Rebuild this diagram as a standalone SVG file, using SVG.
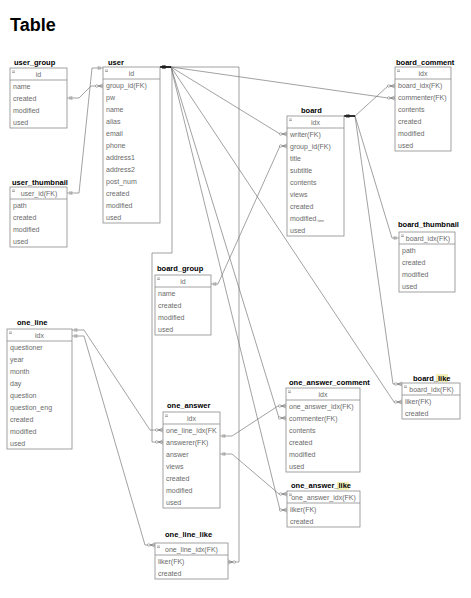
<svg xmlns="http://www.w3.org/2000/svg" width="471" height="598" viewBox="0 0 471 598">
<style>
.bg{fill:#ffffff}
.box{fill:#ffffff;stroke:#8a8a8a;stroke-width:0.8}
.sep{stroke:#8a8a8a;stroke-width:0.8}
.t{font-family:"Liberation Sans",Arial,sans-serif;font-size:7px;fill:#6a6a6a}
.h{font-family:"Liberation Sans",Arial,sans-serif;font-size:7px;fill:#6a6a6a;text-anchor:middle}
.ttl{font-family:"Liberation Sans",Arial,sans-serif;font-size:7.5px;font-weight:bold;fill:#000}
.key{stroke:#777;stroke-width:0.6}
.c{fill:none;stroke:#7a7a7a;stroke-width:0.7}
.m{fill:none;stroke:#666;stroke-width:0.5}
.hl{fill:#f3efb8}
</style>
<defs>
<marker id="many" markerUnits="userSpaceOnUse" markerWidth="12" markerHeight="8" refX="0" refY="0" orient="auto" overflow="visible" viewBox="-10 -4 12 8">
<path class="m" d="M-4.5,0 L0,-2.2 M-4.5,0 L0,2.2 M-4.5,0 L0,0"/>
<circle cx="-6.2" cy="0" r="1.3" fill="#fff" stroke="#666" stroke-width="0.5"/>
</marker>
<marker id="one" markerUnits="userSpaceOnUse" markerWidth="10" markerHeight="8" refX="0" refY="0" orient="auto" overflow="visible" viewBox="-2 -4 10 8">
<path class="m" d="M3,-2 V2 M4.8,-2 V2"/>
</marker>
<marker id="oneEnd" markerUnits="userSpaceOnUse" markerWidth="10" markerHeight="8" refX="0" refY="0" orient="auto" overflow="visible" viewBox="-8 -4 10 8">
<path class="m" d="M-3,-2 V2 M-4.8,-2 V2"/>
</marker>
</defs>
<rect class="bg" x="0" y="0" width="471" height="598"/>
<text x="10" y="31" font-family="Liberation Sans, Arial, sans-serif" font-size="18" font-weight="bold" fill="#000">Table</text>

<g id="connectors">
<path class="c" marker-start="url(#one)" marker-end="url(#many)" d="M67,98 H79 L91,86 H103"/>
<path class="c" marker-start="url(#one)" marker-end="url(#oneEnd)" d="M103,68 H92 L79,193 H67"/>
<path class="c" marker-start="url(#one)" marker-end="url(#many)" d="M160,67 H171 L280,134 H287"/>
<path class="c" marker-start="url(#one)" marker-end="url(#many)" d="M160,67 H171 L388,98 H395"/>
<path class="c" marker-start="url(#one)" marker-end="url(#many)" d="M160,67 H171 L394,402 H402"/>
<path class="c" marker-start="url(#one)" marker-end="url(#many)" d="M160,67 H171 L279,418 H286"/>
<path class="c" marker-start="url(#one)" marker-end="url(#many)" d="M160,67 H171 L280,510 H287"/>
<path class="c" marker-start="url(#one)" marker-end="url(#many)" d="M160,67 H172 V253 H152 V442 H163"/>
<path class="c" marker-start="url(#one)" marker-end="url(#many)" d="M160,67 H239 V562 H228"/>
<path class="c" marker-start="url(#one)" marker-end="url(#many)" d="M344,116 H355 L388,86 H395"/>
<path class="c" marker-start="url(#one)" marker-end="url(#oneEnd)" d="M344,116 H355 L392,238 H399"/>
<path class="c" marker-start="url(#one)" marker-end="url(#many)" d="M344,116 H355 L393,384 H402"/>
<path class="c" marker-start="url(#one)" marker-end="url(#many)" d="M211,284 H218 L280,146 H287"/>
<path class="c" marker-start="url(#one)" marker-end="url(#many)" d="M72,330 H84 L150,430 H163"/>
<path class="c" marker-start="url(#one)" marker-end="url(#many)" d="M72,336 H84 L145,545 H155"/>
<path class="c" marker-start="url(#one)" marker-end="url(#many)" d="M220,436 H232 L278,406 H286"/>
<path class="c" marker-start="url(#one)" marker-end="url(#many)" d="M220,454 H232 L279,494 H287"/>
<path d="M160,67 H171" stroke="#000" stroke-width="1.4"/>
<path d="M344,116 H355" stroke="#000" stroke-width="1.4"/>
</g>

<g id="user_group">
<text class="ttl" x="14" y="65">user_group</text>
<rect class="box" x="10" y="68" width="57" height="60"/>
<line class="sep" x1="10" y1="80" x2="67" y2="80"/>
<path class="key" d="M12,71 H15 M12,72.5 H15"/>
<text class="h" x="38.5" y="76.5">id</text>
<text class="t" x="13" y="88.5">name</text>
<text class="t" x="13" y="100.5">created</text>
<text class="t" x="13" y="112.5">modified</text>
<text class="t" x="13" y="124.5">used</text>
</g>

<g id="user">
<text class="ttl" x="108" y="65">user</text>
<rect class="box" x="103" y="67" width="57" height="156"/>
<line class="sep" x1="103" y1="79" x2="160" y2="79"/>
<path class="key" d="M105,70 H108 M105,71.5 H108"/>
<text class="h" x="131.5" y="75.5">id</text>
<text class="t" x="106" y="87.5">group_id(FK)</text>
<text class="t" x="106" y="99.5">pw</text>
<text class="t" x="106" y="111.5">name</text>
<text class="t" x="106" y="123.5">alias</text>
<text class="t" x="106" y="135.5">email</text>
<text class="t" x="106" y="147.5">phone</text>
<text class="t" x="106" y="159.5">address1</text>
<text class="t" x="106" y="171.5">address2</text>
<text class="t" x="106" y="183.5">post_num</text>
<text class="t" x="106" y="195.5">created</text>
<text class="t" x="106" y="207.5">modified</text>
<text class="t" x="106" y="219.5">used</text>
</g>

<g id="user_thumbnail">
<text class="ttl" x="12" y="185">user_thumbnail</text>
<rect class="box" x="10" y="187" width="57" height="60"/>
<line class="sep" x1="10" y1="199" x2="67" y2="199"/>
<path class="key" d="M12,190 H15 M12,191.5 H15"/>
<text class="h" x="39" y="195.5">user_id(FK)</text>
<text class="t" x="13" y="207.5">path</text>
<text class="t" x="13" y="219.5">created</text>
<text class="t" x="13" y="231.5">modified</text>
<text class="t" x="13" y="243.5">used</text>
</g>

<g id="board">
<text class="ttl" x="301" y="113">board</text>
<rect class="box" x="287" y="116" width="57" height="120"/>
<line class="sep" x1="287" y1="128" x2="344" y2="128"/>
<path class="key" d="M289,119 H292 M289,120.5 H292"/>
<text class="h" x="315.5" y="124.5">idx</text>
<text class="t" x="290" y="136.5">writer(FK)</text>
<text class="t" x="290" y="148.5">group_id(FK)</text>
<text class="t" x="290" y="160.5">title</text>
<text class="t" x="290" y="172.5">subtitle</text>
<text class="t" x="290" y="184.5">contents</text>
<text class="t" x="290" y="196.5">views</text>
<text class="t" x="290" y="208.5">created</text>
<text class="t" x="290" y="220.5">modified<tspan font-size="3.5" dy="1.5"> time</tspan></text>
<text class="t" x="290" y="232.5">used</text>
</g>

<g id="board_comment">
<text class="ttl" x="396" y="65">board_comment</text>
<rect class="box" x="395" y="67" width="56" height="84"/>
<line class="sep" x1="395" y1="79" x2="451" y2="79"/>
<path class="key" d="M397,70 H400 M397,71.5 H400"/>
<text class="h" x="423" y="75.5">idx</text>
<text class="t" x="398" y="87.5">board_idx(FK)</text>
<text class="t" x="398" y="99.5">commenter(FK)</text>
<text class="t" x="398" y="111.5">contents</text>
<text class="t" x="398" y="123.5">created</text>
<text class="t" x="398" y="135.5">modified</text>
<text class="t" x="398" y="147.5">used</text>
</g>

<g id="board_thumbnail">
<text class="ttl" x="398" y="227">board_thumbnail</text>
<rect class="box" x="399" y="232" width="56" height="60"/>
<line class="sep" x1="399" y1="244" x2="455" y2="244"/>
<path class="key" d="M401,235 H404 M401,236.5 H404"/>
<text class="h" x="428" y="240.5">board_idx(FK)</text>
<text class="t" x="402" y="252.5">path</text>
<text class="t" x="402" y="264.5">created</text>
<text class="t" x="402" y="276.5">modified</text>
<text class="t" x="402" y="288.5">used</text>
</g>

<g id="board_like">
<rect class="hl" x="436" y="374" width="12" height="8"/>
<text class="ttl" x="413" y="381">board_like</text>
<rect class="box" x="402" y="383" width="58" height="36"/>
<line class="sep" x1="402" y1="395" x2="460" y2="395"/>
<path class="key" d="M404,386 H407 M404,387.5 H407"/>
<text class="h" x="431.5" y="391.5">board_idx(FK)</text>
<text class="t" x="405" y="403.5">liker(FK)</text>
<text class="t" x="405" y="415.5">created</text>
</g>

<g id="board_group">
<text class="ttl" x="157" y="271">board_group</text>
<rect class="box" x="155" y="275" width="56" height="60"/>
<line class="sep" x1="155" y1="287" x2="211" y2="287"/>
<path class="key" d="M157,278 H160 M157,279.5 H160"/>
<text class="h" x="183" y="283.5">id</text>
<text class="t" x="158" y="295.5">name</text>
<text class="t" x="158" y="307.5">created</text>
<text class="t" x="158" y="319.5">modified</text>
<text class="t" x="158" y="331.5">used</text>
</g>

<g id="one_line">
<text class="ttl" x="17" y="325">one_line</text>
<rect class="box" x="7" y="329" width="65" height="120"/>
<line class="sep" x1="7" y1="341" x2="72" y2="341"/>
<path class="key" d="M9,332 H12 M9,333.5 H12"/>
<text class="h" x="39.5" y="337.5">idx</text>
<text class="t" x="10" y="349.5">questioner</text>
<text class="t" x="10" y="361.5">year</text>
<text class="t" x="10" y="373.5">month</text>
<text class="t" x="10" y="385.5">day</text>
<text class="t" x="10" y="397.5">question</text>
<text class="t" x="10" y="409.5">question_eng</text>
<text class="t" x="10" y="421.5">created</text>
<text class="t" x="10" y="433.5">modified</text>
<text class="t" x="10" y="445.5">used</text>
</g>

<g id="one_answer">
<text class="ttl" x="167" y="408">one_answer</text>
<rect class="box" x="163" y="412" width="57" height="96"/>
<line class="sep" x1="163" y1="424" x2="220" y2="424"/>
<path class="key" d="M165,415 H168 M165,416.5 H168"/>
<text class="h" x="191.5" y="420.5">idx</text>
<text class="t" x="166" y="432.5">one_line_idx(FK</text>
<text class="t" x="166" y="444.5">answerer(FK)</text>
<text class="t" x="166" y="456.5">answer</text>
<text class="t" x="166" y="468.5">views</text>
<text class="t" x="166" y="480.5">created</text>
<text class="t" x="166" y="492.5">modified</text>
<text class="t" x="166" y="504.5">used</text>
</g>

<g id="one_answer_comment">
<text class="ttl" x="289" y="385">one_answer_comment</text>
<rect class="box" x="286" y="388" width="74" height="84"/>
<line class="sep" x1="286" y1="400" x2="360" y2="400"/>
<path class="key" d="M288,391 H291 M288,392.5 H291"/>
<text class="h" x="323" y="396.5">idx</text>
<text class="t" x="289" y="408.5">one_answer_idx(FK)</text>
<text class="t" x="289" y="420.5">commenter(FK)</text>
<text class="t" x="289" y="432.5">contents</text>
<text class="t" x="289" y="444.5">created</text>
<text class="t" x="289" y="456.5">modified</text>
<text class="t" x="289" y="468.5">used</text>
</g>

<g id="one_answer_like">
<rect class="hl" x="337" y="482" width="12" height="8"/>
<text class="ttl" x="291" y="488">one_answer_like</text>
<rect class="box" x="287" y="491" width="73" height="36"/>
<line class="sep" x1="287" y1="503" x2="360" y2="503"/>
<path class="key" d="M289,494 H292 M289,495.5 H292"/>
<text class="h" x="323.5" y="499.5">one_answer_idx(FK)</text>
<text class="t" x="290" y="511.5">liker(FK)</text>
<text class="t" x="290" y="523.5">created</text>
</g>

<g id="one_line_like">
<text class="ttl" x="165" y="537">one_line_like</text>
<rect class="box" x="155" y="543" width="73" height="36"/>
<line class="sep" x1="155" y1="555" x2="228" y2="555"/>
<path class="key" d="M157,546 H160 M157,547.5 H160"/>
<text class="h" x="191.5" y="551.5">one_line_idx(FK)</text>
<text class="t" x="158" y="563.5">liker(FK)</text>
<text class="t" x="158" y="575.5">created</text>
</g>
</svg>
